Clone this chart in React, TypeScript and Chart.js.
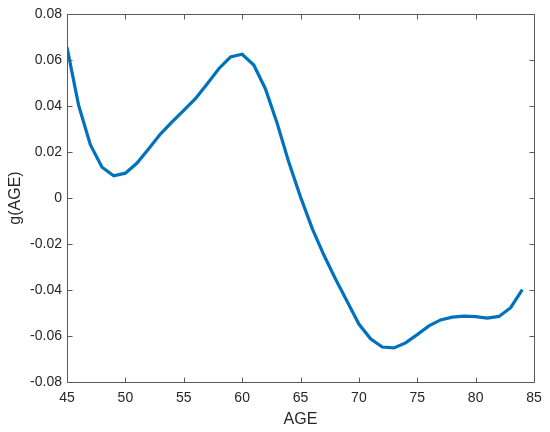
import React, { useEffect, useRef } from 'react';
import { Chart, registerables } from 'chart.js';

Chart.register(...registerables);

const ages = [45, 46, 47, 48, 49, 50, 51, 52, 53, 54, 55, 56, 57, 58, 59, 60, 61, 62, 63, 64,
  65, 66, 67, 68, 69, 70, 71, 72, 73, 74, 75, 76, 77, 78, 79, 80, 81, 82, 83, 84];
const gValues = [0.0655, 0.0402, 0.0232, 0.0134, 0.0097, 0.0108, 0.0152, 0.0214, 0.0278, 0.0331,
  0.0381, 0.0432, 0.0496, 0.0562, 0.0613, 0.0625, 0.0578, 0.0474, 0.0325, 0.0155,
  0.0005, -0.0132, -0.0248, -0.0352, -0.0450, -0.0548, -0.0612, -0.0648, -0.0652, -0.0630,
  -0.0594, -0.0556, -0.0530, -0.0518, -0.0514, -0.0516, -0.0522, -0.0515, -0.0477, -0.0398];
const xTicks = [45, 50, 55, 60, 65, 70, 75, 80, 85];
const yTicks = [-0.08, -0.06, -0.04, -0.02, 0, 0.02, 0.04, 0.06, 0.08];
const xTitle = 'AGE';
const yTitle = 'g(AGE)';

const FONT = '"Liberation Sans", Arial, Helvetica, sans-serif';
const AXIS_COLOR = '#262626';

const boxPlugin = {
  id: 'matlabBox',
  afterDraw(chart: any) {
    const { ctx, chartArea } = chart;
    const xs = chart.scales.x;
    const ys = chart.scales.y;
    const L = Math.round(chartArea.left) + 0.5;
    const R = Math.round(chartArea.right) + 0.5;
    const T = Math.round(chartArea.top) + 0.5;
    const B = Math.round(chartArea.bottom) + 0.5;
    const len = 5;
    ctx.save();
    ctx.strokeStyle = '#5a5a5a';
    ctx.lineWidth = 1;
    ctx.beginPath();
    ctx.rect(L, T, R - L, B - T);
    xTicks.forEach((v) => {
      const px = Math.round(xs.getPixelForValue(v)) + 0.5;
      ctx.moveTo(px, B);
      ctx.lineTo(px, B - len);
      ctx.moveTo(px, T);
      ctx.lineTo(px, T + len);
    });
    yTicks.forEach((v) => {
      const py = Math.round(ys.getPixelForValue(v)) + 0.5;
      ctx.moveTo(L, py);
      ctx.lineTo(L + len, py);
      ctx.moveTo(R, py);
      ctx.lineTo(R - len, py);
    });
    ctx.stroke();
    ctx.restore();
  },
};

export default function App() {
  const ref = useRef<HTMLCanvasElement | null>(null);

  useEffect(() => {
    if (!ref.current) return;
    const chart = new Chart(ref.current, {
      type: 'line',
      data: {
        datasets: [
          {
            data: ages.map((a, i) => ({ x: a, y: gValues[i] })),
            borderColor: '#0072BD',
            borderWidth: 3.2,
            pointRadius: 0,
            tension: 0,
            fill: false,
          },
        ],
      },
      options: {
        animation: false,
        responsive: true,
        maintainAspectRatio: false,
        devicePixelRatio: 1,
        layout: { padding: { left: 0, right: 16, top: 14, bottom: 0 } },
        plugins: { legend: { display: false }, tooltip: { enabled: false } },
        scales: {
          x: {
            type: 'linear',
            min: 45,
            max: 85,
            afterBuildTicks: (s: any) => {
              s.ticks = xTicks.map((v) => ({ value: v }));
            },
            afterFit: (s: any) => {
              s.height = 50;
            },
            grid: { display: false, drawTicks: false },
            border: { display: false },
            ticks: {
              padding: 8,
              color: AXIS_COLOR,
              font: { family: FONT, size: 14 },
              maxRotation: 0,
              autoSkip: false,
              callback: (v: any) => String(v),
            },
            title: {
              display: true,
              text: xTitle,
              color: AXIS_COLOR,
              font: { family: FONT, size: 16 },
              padding: { top: 0, bottom: 3 },
            },
          },
          y: {
            type: 'linear',
            min: -0.08,
            max: 0.08,
            afterBuildTicks: (s: any) => {
              s.ticks = yTicks.map((v) => ({ value: v }));
            },
            afterFit: (s: any) => {
              s.width = 67;
            },
            grid: { display: false, drawTicks: false },
            border: { display: false },
            ticks: {
              padding: 5,
              color: AXIS_COLOR,
              font: { family: FONT, size: 14 },
              autoSkip: false,
              callback: (v: any) => (Math.abs(Number(v)) < 1e-9 ? '0' : Number(v).toFixed(2)),
            },
            title: {
              display: true,
              text: yTitle,
              color: AXIS_COLOR,
              font: { family: FONT, size: 16 },
              padding: { top: 6, bottom: 0 },
            },
          },
        },
      },
      plugins: [boxPlugin],
    });
    return () => chart.destroy();
  }, []);

  return (
    <div style={{ position: 'absolute', left: 0, top: 0, width: 550, height: 432, background: '#fff' }}>
      <canvas ref={ref} />
    </div>
  );
}
